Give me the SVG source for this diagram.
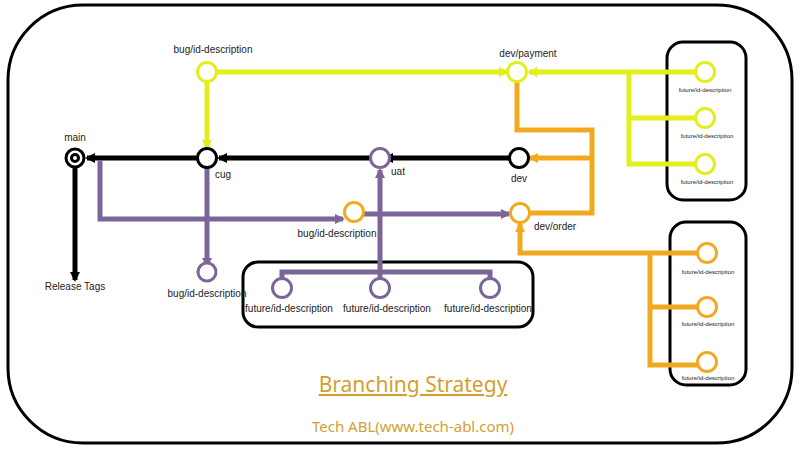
<svg xmlns="http://www.w3.org/2000/svg" width="800" height="450" viewBox="0 0 800 450">
<style>
text{font-family:"Liberation Sans",Arial,sans-serif;font-size:10px;fill:#222;text-anchor:middle}
.t{font-size:6px}
.y{stroke:#e3ef1c;fill:none;stroke-width:5}
.p{stroke:#7c6599;fill:none;stroke-width:5}
.o{stroke:#f1aa1f;fill:none;stroke-width:5}
.k{stroke:#000;fill:none;stroke-width:5}
.n{fill:#fff;stroke-width:3}
.box{fill:none;stroke:#000;stroke-width:3}
text.g{fill:#d2a02f;font-family:"Noto Sans","Liberation Sans",sans-serif}
text.h1{font-size:21px;text-decoration:underline}
text.h2{font-size:15px}
</style>
<defs>
<marker id="ak" viewBox="0 0 10 10" refX="8" refY="5" markerWidth="2" markerHeight="2" orient="auto"><path d="M0,0L10,5L0,10z" fill="#000"/></marker>
<marker id="ay" viewBox="0 0 10 10" refX="8" refY="5" markerWidth="2" markerHeight="2" orient="auto"><path d="M0,0L10,5L0,10z" fill="#e3ef1c"/></marker>
<marker id="ap" viewBox="0 0 10 10" refX="8" refY="5" markerWidth="2" markerHeight="2" orient="auto"><path d="M0,0L10,5L0,10z" fill="#7c6599"/></marker>
<marker id="ao" viewBox="0 0 10 10" refX="8" refY="5" markerWidth="2" markerHeight="2" orient="auto"><path d="M0,0L10,5L0,10z" fill="#f1aa1f"/></marker>
</defs>
<rect x="8" y="5" width="784" height="438" rx="75" class="box" stroke-width="3.5"/>
<rect x="243" y="262" width="290" height="65" rx="15" class="box"/>
<rect x="667" y="42" width="79" height="158" rx="16" class="box"/>
<rect x="670" y="222" width="76" height="163" rx="16" class="box"/>
<g id="connectors">
<path class="k" d="M510,158H385" marker-end="url(#ak)" stroke-width="4"/>
<path class="k" d="M371,158H219" marker-end="url(#ak)" stroke-width="4"/>
<path class="k" d="M198,158H87" marker-end="url(#ak)"/>
<path class="k" d="M75,168V280" marker-end="url(#ak)"/>
<path class="y" d="M207,82V148" marker-end="url(#ay)"/>
<path class="y" d="M217,72H507" marker-end="url(#ay)"/>
<path class="y" d="M696,72H529" marker-end="url(#ay)"/>
<path class="y" d="M629,72V118H696M629,118V164H696"/>
<path class="p" d="M207,168V266" marker-end="url(#ap)"/>
<path class="p" d="M100,160V219H343" marker-end="url(#ap)" stroke-width="4"/>
<path class="p" d="M364,214H509" marker-end="url(#ap)"/>
<path class="p" d="M380,278V170" marker-end="url(#ap)"/>
<path class="p" d="M282,279V272H490V279" stroke-width="4"/>
<path class="o" d="M517,82V130H592V213H530" stroke-width="4"/>
<path class="o" d="M592,158H530" marker-end="url(#ao)" stroke-width="4"/>
<path class="o" d="M698,253H520V224" marker-end="url(#ao)"/>
<path class="o" d="M650,253V365H698M650,307H698" stroke-width="4"/>
</g>
<g id="main"><circle cx="75" cy="158" r="9" class="n" stroke="#000"/><circle cx="75" cy="158" r="3.5" fill="none" stroke="#000" stroke-width="3"/><text x="75" y="141">main</text><text x="75" y="290">Release Tags</text></g>
<g id="cug"><circle cx="207" cy="158" r="9.5" class="n" stroke="#000"/><text x="223" y="178">cug</text></g>
<g id="bug-yellow"><circle cx="207" cy="72" r="9.5" class="n" stroke="#e3ef1c"/><text x="213" y="53">bug/id-description</text></g>
<g id="bug-purple"><circle cx="207" cy="272" r="9" class="n" stroke="#7c6599"/><text x="207" y="297">bug/id-description</text></g>
<g id="uat"><circle cx="380" cy="158" r="9.5" class="n" stroke="#7c6599"/><text x="398" y="175">uat</text></g>
<g id="dev"><circle cx="519" cy="158" r="9.5" class="n" stroke="#000"/><text x="519" y="182">dev</text></g>
<g id="bug-orange"><circle cx="354" cy="212" r="9.5" class="n" stroke="#f1aa1f"/><text x="337" y="237">bug/id-description</text></g>
<g id="dev-order"><circle cx="520" cy="213" r="9.5" class="n" stroke="#f1aa1f"/><text x="555" y="230">dev/order</text></g>
<g id="dev-payment"><circle cx="517" cy="72" r="9.5" class="n" stroke="#e3ef1c"/><text x="528" y="57">dev/payment</text></g>
<g id="f1"><circle cx="282" cy="288" r="9.5" class="n" stroke="#7c6599"/><text x="289" y="312">future/id-description</text></g>
<g id="f2"><circle cx="380" cy="288" r="9.5" class="n" stroke="#7c6599"/><text x="387" y="312">future/id-description</text></g>
<g id="f3"><circle cx="490" cy="288" r="9.5" class="n" stroke="#7c6599"/><text x="488" y="312">future/id-description</text></g>
<g id="fy1"><circle cx="705" cy="72" r="9.5" class="n" stroke="#e3ef1c"/><text class="t" x="705" y="92">future/id-description</text></g>
<g id="fy2"><circle cx="705" cy="118" r="9.5" class="n" stroke="#e3ef1c"/><text class="t" x="707" y="138">future/id-description</text></g>
<g id="fy3"><circle cx="705" cy="164" r="9.5" class="n" stroke="#e3ef1c"/><text class="t" x="707" y="184">future/id-description</text></g>
<g id="fo1"><circle cx="707" cy="253" r="9.5" class="n" stroke="#f1aa1f"/><text class="t" x="708" y="274">future/id-description</text></g>
<g id="fo2"><circle cx="707" cy="307" r="9.5" class="n" stroke="#f1aa1f"/><text class="t" x="708" y="326">future/id-description</text></g>
<g id="fo3"><circle cx="707" cy="362" r="9.5" class="n" stroke="#f1aa1f"/><text class="t" x="708" y="380">future/id-description</text></g>
<text class="g h1" x="413" y="392">Branching Strategy</text>
<text class="g h2" x="413" y="432">Tech ABL(www.tech-abl.com)</text>
</svg>
